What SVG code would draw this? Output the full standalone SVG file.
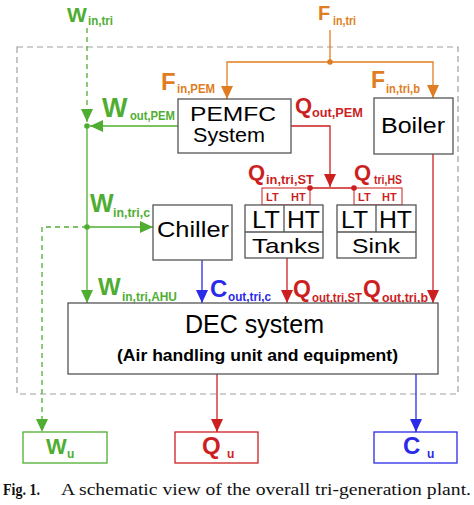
<svg xmlns="http://www.w3.org/2000/svg" width="474" height="505" viewBox="0 0 474 505">
<style>
.box{fill:#fff;stroke:#555;stroke-width:1.3}
.bt{font-family:"Liberation Sans",Arial,sans-serif;fill:#000}
.lb{font-family:"Liberation Sans",Arial,sans-serif;font-weight:bold}
.sub{font-family:"Liberation Sans",Arial,sans-serif;font-weight:bold;font-size:12px}
.g{fill:#4fae32}.o{fill:#e07d22}.r{fill:#cc1f1f}.b{fill:#2a2ae8}
.sg{stroke:#4fae32}.so{stroke:#e07d22}.sr{stroke:#cc1f1f}.sb{stroke:#2a2ae8}
.ln{fill:none;stroke-width:1.3}
.dash{stroke-dasharray:5,4}
.cap{font-family:"Liberation Serif","Times New Roman",serif;fill:#111;font-size:16px}
</style>
<defs>
<marker id="ag" markerUnits="userSpaceOnUse" markerWidth="13" markerHeight="12" refX="13" refY="6" orient="auto"><path d="M0,0 L13,6 L0,12 z" fill="#4fae32"/></marker>
<marker id="ao" markerUnits="userSpaceOnUse" markerWidth="13" markerHeight="12" refX="13" refY="6" orient="auto"><path d="M0,0 L13,6 L0,12 z" fill="#e07d22"/></marker>
<marker id="ar" markerUnits="userSpaceOnUse" markerWidth="13" markerHeight="12" refX="13" refY="6" orient="auto"><path d="M0,0 L13,6 L0,12 z" fill="#cc1f1f"/></marker>
<marker id="ab" markerUnits="userSpaceOnUse" markerWidth="13" markerHeight="12" refX="13" refY="6" orient="auto"><path d="M0,0 L13,6 L0,12 z" fill="#2a2ae8"/></marker>
</defs>

<rect id="boundary" x="17" y="47" width="441" height="347" fill="none" stroke="#a0a0a0" stroke-width="1.2" stroke-dasharray="6,4"/>

<g id="connectors">
<path class="ln so" d="M330,30 V62"/>
<path class="ln so" d="M330,62 H227 V99" marker-end="url(#ao)"/>
<path class="ln so" d="M330,62 H433 V98" marker-end="url(#ao)"/>
<circle cx="330" cy="62" r="2.8" class="o"/>
<path class="ln sr" d="M291,126 H330 V187" marker-end="url(#ar)"/>
<path class="ln sr" d="M310,188 H354"/>
<circle cx="310" cy="188" r="2.8" class="r"/>
<circle cx="354" cy="188" r="2.8" class="r"/>
<path class="ln sr" d="M287,258 V303" marker-end="url(#ar)"/>
<path class="ln sr" d="M433,154 V303" marker-end="url(#ar)"/>
<path class="ln sr" d="M217,374 V432" marker-end="url(#ar)"/>
<path class="ln sb" d="M202,260 V303" marker-end="url(#ab)"/>
<path class="ln sb" d="M416,374 V432" marker-end="url(#ab)"/>
<path class="ln sg dash" d="M87,28 V122" marker-end="url(#ag)"/>
<path class="ln sg" d="M178,126 H90" marker-end="url(#ag)"/>
<circle cx="87" cy="126" r="2.8" class="g"/>
<path class="ln sg" d="M87,126 V303" marker-end="url(#ag)"/>
<circle cx="87" cy="227" r="2.8" class="g"/>
<path class="ln sg" d="M87,227 H153" marker-end="url(#ag)"/>
<path class="ln sg dash" d="M87,227 H42 V432" marker-end="url(#ag)"/>
</g>

<g id="labels">
<text class="lb g" x="67" y="22" font-size="21">W</text>
<text class="sub g" x="88" y="25" textLength="25" lengthAdjust="spacingAndGlyphs">in,tri</text>
<text class="lb o" x="318" y="20" font-size="20">F</text>
<text class="sub o" x="333" y="25" textLength="23" lengthAdjust="spacingAndGlyphs">in,tri</text>
<text class="lb o" x="161" y="90" font-size="24">F</text>
<text class="sub o" x="177" y="93" textLength="38" lengthAdjust="spacingAndGlyphs">in,PEM</text>
<text class="lb g" x="102" y="117" font-size="27">W</text>
<text class="sub g" x="130" y="120" textLength="45" lengthAdjust="spacingAndGlyphs">out,PEM</text>
<text class="lb o" x="371" y="88" font-size="23">F</text>
<text class="sub o" x="386" y="93" textLength="34" lengthAdjust="spacingAndGlyphs">in,tri,b</text>
<text class="lb r" x="295" y="113" font-size="22">Q</text>
<text class="sub r" x="312" y="117" textLength="51" lengthAdjust="spacingAndGlyphs">out,PEM</text>
<text class="lb r" x="248" y="180" font-size="22">Q</text>
<text class="sub r" x="266" y="184" textLength="48" lengthAdjust="spacingAndGlyphs">in,tri,ST</text>
<text class="lb r" x="354" y="180" font-size="22">Q</text>
<text class="sub r" x="374" y="184" textLength="28" lengthAdjust="spacingAndGlyphs">tri,HS</text>
<text class="lb g" x="90" y="212" font-size="25">W</text>
<text class="sub g" x="113" y="217" textLength="37" lengthAdjust="spacingAndGlyphs">in,tri,c</text>
<text class="lb g" x="98" y="295" font-size="24">W</text>
<text class="sub g" x="122" y="301" textLength="55" lengthAdjust="spacingAndGlyphs">in,tri,AHU</text>
<text class="lb b" x="210" y="297" font-size="24">C</text>
<text class="sub b" x="228" y="301" textLength="43" lengthAdjust="spacingAndGlyphs">out,tri,c</text>
<text class="lb r" x="293" y="297" font-size="23">Q</text>
<text class="sub r" x="312" y="302" textLength="50" lengthAdjust="spacingAndGlyphs">out,tri,ST</text>
<text class="lb r" x="363" y="297" font-size="23">Q</text>
<text class="sub r" x="382" y="302" textLength="46" lengthAdjust="spacingAndGlyphs">out,tri,b</text>
</g>

<g id="pemfc">
<rect class="box" x="178" y="99" width="113" height="54"/>
<text class="bt" x="190" y="121" font-size="20" textLength="86" lengthAdjust="spacingAndGlyphs">PEMFC</text>
<text class="bt" x="193" y="142" font-size="20" textLength="72" lengthAdjust="spacingAndGlyphs">System</text>
</g>

<g id="boiler">
<rect class="box" x="374" y="98" width="79" height="56"/>
<text class="bt" x="381" y="133" font-size="22" textLength="64" lengthAdjust="spacingAndGlyphs">Boiler</text>
</g>

<g id="chiller">
<rect class="box" x="153" y="205" width="79" height="55"/>
<text class="bt" x="157" y="237" font-size="22" textLength="72" lengthAdjust="spacingAndGlyphs">Chiller</text>
</g>

<g id="tanks">
<rect x="262" y="188" width="48" height="17" fill="none" stroke="#cc1f1f" stroke-width="1"/>
<text class="lb r" x="266" y="201" font-size="11">LT</text>
<text class="lb r" x="291" y="201" font-size="11">HT</text>
<rect class="box" x="245" y="205" width="78" height="53"/>
<path d="M245,232 H323 M284,205 V232" stroke="#555" stroke-width="1.3" fill="none"/>
<text class="bt" x="252" y="228" font-size="24" textLength="28" lengthAdjust="spacingAndGlyphs">LT</text>
<text class="bt" x="287" y="228" font-size="24" textLength="33" lengthAdjust="spacingAndGlyphs">HT</text>
<text class="bt" x="252" y="253" font-size="21" textLength="68" lengthAdjust="spacingAndGlyphs">Tanks</text>
</g>

<g id="sink">
<rect x="354" y="188" width="48" height="17" fill="none" stroke="#cc1f1f" stroke-width="1"/>
<text class="lb r" x="358" y="201" font-size="11">LT</text>
<text class="lb r" x="382" y="201" font-size="11">HT</text>
<rect class="box" x="337" y="205" width="79" height="53"/>
<path d="M337,232 H416 M376,205 V232" stroke="#555" stroke-width="1.3" fill="none"/>
<text class="bt" x="341" y="228" font-size="24" textLength="27" lengthAdjust="spacingAndGlyphs">LT</text>
<text class="bt" x="379" y="228" font-size="24" textLength="33" lengthAdjust="spacingAndGlyphs">HT</text>
<text class="bt" x="352" y="253" font-size="21" textLength="48" lengthAdjust="spacingAndGlyphs">Sink</text>
</g>

<g id="dec">
<rect class="box" x="68" y="303" width="370" height="71"/>
<text class="bt" x="185" y="333" font-size="25" textLength="139" lengthAdjust="spacingAndGlyphs">DEC system</text>
<text class="bt" x="117" y="361" font-size="17" font-weight="bold" textLength="281" lengthAdjust="spacingAndGlyphs">(Air handling unit and equipment)</text>
</g>

<g id="wu">
<rect x="23" y="432" width="84" height="31" fill="#fff" stroke="#4fae32" stroke-width="1.3"/>
<text class="lb g" x="46" y="454" font-size="22">W</text>
<text class="sub g" x="67" y="458">u</text>
</g>
<g id="qu">
<rect x="175" y="432" width="83" height="31" fill="#fff" stroke="#cc1f1f" stroke-width="1.3"/>
<text class="lb r" x="202" y="454" font-size="24">Q</text>
<text class="sub r" x="227" y="458">u</text>
</g>
<g id="cu">
<rect x="374" y="432" width="83" height="31" fill="#fff" stroke="#2a2ae8" stroke-width="1.3"/>
<text class="lb b" x="403" y="454" font-size="24">C</text>
<text class="sub b" x="427" y="458">u</text>
</g>

<g id="caption">
<text class="cap" x="3" y="495" font-weight="bold" textLength="37" lengthAdjust="spacingAndGlyphs">Fig. 1.</text>
<text class="cap" x="61" y="495" textLength="410" lengthAdjust="spacingAndGlyphs">A schematic view of the overall tri-generation plant.</text>
</g>
</svg>
